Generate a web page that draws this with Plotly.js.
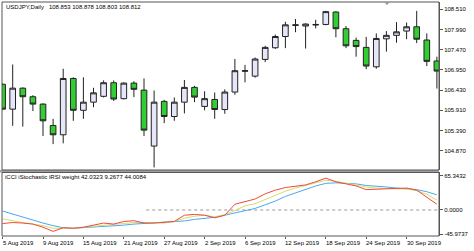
<!DOCTYPE html>
<html><head><meta charset="utf-8">
<script src="https://cdn.plot.ly/plotly-3.0.1.min.js"></script>
<style>html,body{margin:0;padding:0;background:#fff;} #chart{width:474px;height:251px;}</style>
</head><body><div id="chart"></div>
<script>
const dates = ['5 Aug 2019','6 Aug 2019','7 Aug 2019','8 Aug 2019','9 Aug 2019','12 Aug 2019','13 Aug 2019','14 Aug 2019','15 Aug 2019','16 Aug 2019',
 '19 Aug 2019','20 Aug 2019','21 Aug 2019','22 Aug 2019','23 Aug 2019','26 Aug 2019','27 Aug 2019','28 Aug 2019','29 Aug 2019','30 Aug 2019',
 '2 Sep 2019','3 Sep 2019','4 Sep 2019','5 Sep 2019','6 Sep 2019','9 Sep 2019','10 Sep 2019','11 Sep 2019','12 Sep 2019','13 Sep 2019',
 '16 Sep 2019','17 Sep 2019','18 Sep 2019','19 Sep 2019','20 Sep 2019','23 Sep 2019','24 Sep 2019','25 Sep 2019','26 Sep 2019','27 Sep 2019',
 '30 Sep 2019','1 Oct 2019','2 Oct 2019','3 Oct 2019'];
const openP  = [106.58,105.94,106.48,106.26,106.07,105.52,105.28,106.73,105.91,106.12, 106.27,106.62,106.21,106.61,106.43,104.99,106.14,105.75,106.12,106.50, 106.01,106.19,105.93,106.38,106.93,106.79,107.22,107.52,107.81,108.11, 108.08,108.12,108.12,108.44,108.01,107.71,107.53,107.03,107.75,107.84, 107.95,108.06,107.72,107.18];
const highP  = [106.60,107.09,106.50,106.30,106.09,105.69,106.98,106.76,106.76,106.49, 106.68,106.68,106.63,106.66,106.73,106.42,106.18,106.24,106.69,106.54, 106.40,106.37,106.45,107.23,107.08,107.27,107.57,107.86,108.19,108.26, 108.15,108.24,108.47,108.46,108.08,107.78,107.80,107.89,107.95,108.18, 108.17,108.47,107.89,107.29];
const lowP   = [105.92,105.51,105.49,105.89,105.25,105.04,105.06,105.64,105.69,105.99, 106.24,106.15,106.19,106.25,105.25,104.44,105.58,105.64,105.83,106.12, 105.91,105.69,105.82,106.31,106.63,106.75,107.15,107.49,107.51,107.92, 107.50,108.02,108.10,107.79,107.51,107.29,106.97,106.98,107.42,107.65, 107.74,107.64,107.05,106.47];
const closeP = [105.94,106.48,106.26,106.07,105.64,105.28,106.73,105.91,106.12,106.36, 106.62,106.20,106.61,106.45,105.40,106.12,105.75,106.12,106.50,106.25, 106.21,105.93,106.38,106.93,106.92,107.23,107.53,107.81,108.11,108.10, 108.13,108.11,108.45,108.01,107.57,107.55,107.05,107.76,107.84,107.93, 108.06,107.74,107.17,106.92];

const redLine    = [-26,-24,-25,-27,-33,-41,-34,-35,-33,-29, -25,-27,-22,-20.5,-25,-25,-24,-22,-10,-8.5, -10,-15,-10,11,16,21,31,38,43,46, 48,54,61,54,50,46,39,40,40,41, 42,38,24,11];
const yellowLine = [-17,-21,-24,-27,-30,-35,-35,-35,-33,-31, -29,-28,-25,-24,-24,-25,-25,-22,-16,-12, -10,-13,-9,-1,8,12,20,28,36,42, 47,51,57,55,51,48,44,42,41,40, 40,37,30,19];
const blueLine   = [-2,-8,-14,-20,-25,-30,-34,-35,-34,-32, -31,-30,-29,-27,-26,-25,-24,-23,-21,-18, -16,-14,-10,-6,-2,3,10,17,26,33, 40,46,51,52,51,50,47,46,44,42, 41,39,35,29];

const dateLabels = ['5 Aug 2019','9 Aug 2019','15 Aug 2019','21 Aug 2019','27 Aug 2019','2 Sep 2019','6 Sep 2019','12 Sep 2019','18 Sep 2019','24 Sep 2019','30 Sep 2019'];
const priceTicks = [108.510,107.990,107.470,106.950,106.430,105.910,105.390,104.870];
const subTicks = [65.3432, 0, -45.9737];
const headerName = 'USDJPY,Daily';
const headerValues = ['108.853','108.878','108.803','108.812'];
const subName = 'iCCI iStochastic iRSI weight';
const subValues = ['42.0323','9.2677','44.0084'];

const FONT = '"Liberation Sans", Arial, sans-serif';
const TF = {family: FONT, size: 6, color: '#000'};
const AX = '#555';

const traces = [
 {type:'candlestick', x:dates, open:openP, high:highP, low:lowP, close:closeP, xaxis:'x', yaxis:'y',
  whiskerwidth:0, hoverinfo:'skip',
  increasing:{line:{color:'#222', width:1}, fillcolor:'#e6e6fa'},
  decreasing:{line:{color:'#222', width:1}, fillcolor:'#32cd32'}},
 {type:'scatter', mode:'lines', x:dates, y:blueLine, xaxis:'x', yaxis:'y2', line:{color:'#4aa8f0', width:1}, hoverinfo:'skip'},
 {type:'scatter', mode:'lines', x:dates, y:yellowLine, xaxis:'x', yaxis:'y2', line:{color:'#d6dc6a', width:1}, hoverinfo:'skip'},
 {type:'scatter', mode:'lines', x:dates, y:redLine, xaxis:'x', yaxis:'y2', line:{color:'#ee4a3c', width:1}, hoverinfo:'skip'}
];

const annotations = [
 {xref:'paper', yref:'paper', x:0, y:1, xanchor:'left', yanchor:'top', xshift:2, showarrow:false,
  text: headerName + '\u00a0\u00a0\u00a0' + headerValues.join('\u00a0'), font:TF},
 {xref:'paper', yref:'y2 domain', x:0, y:1, xanchor:'left', yanchor:'top', xshift:1, showarrow:false,
  text: subName + '\u00a0' + subValues.join('\u00a0'), font:TF}
];
dateLabels.forEach(d => annotations.push({xref:'x', yref:'paper', x:d, y:0, xanchor:'left', yanchor:'top',
  xshift:-2, yshift:-2, showarrow:false, text:d, font:TF}));

const shapes = [
 {type:'rect', xref:'paper', yref:'paper', x0:-0.0046, x1:1, y0:0.2714, y1:0.2821, fillcolor:'#a0a0a0', line:{width:0}},
 {type:'rect', xref:'paper', yref:'y domain', x0:0, x1:1, y0:0, y1:1, line:{color:AX, width:1}},
 {type:'rect', xref:'paper', yref:'y2 domain', x0:0, x1:1, y0:0, y1:1, line:{color:AX, width:1}},
 {type:'line', xref:'paper', yref:'y2', x0:0.33, x1:1, y0:0, y1:0, line:{color:'#999', width:1, dash:'dot'}, layer:'below'},
 {type:'path', xref:'paper', yref:'paper', xsizemode:'pixel', ysizemode:'pixel', xanchor:0.881, yanchor:1,
  path:'M -3,0 L 3,0 L 0,-3 Z', fillcolor:'#999', line:{width:0}}
];

const layout = {
 width:474, height:251, margin:{l:2, r:35, t:2, b:15},
 paper_bgcolor:'#fff', plot_bgcolor:'#fff', showlegend:false,
 boxgap:0.44, boxgroupgap:0,
 xaxis:{type:'category', categoryorder:'array', categoryarray:dates, range:[-0.0594, 43.208], anchor:'y2',
  rangeslider:{visible:false}, showgrid:false, zeroline:false, showline:false,
  ticks:'outside', ticklen:2, tickcolor:AX, tickvals:dateLabels, showticklabels:false, fixedrange:true},
 yaxis:{domain:[0.2821, 1], range:[104.374, 108.698], side:'right', showgrid:false, zeroline:false,
  showline:true, linecolor:AX, linewidth:1, ticks:'outside', ticklen:3, tickcolor:AX,
  tickvals:priceTicks, ticktext:priceTicks.map(v => v.toFixed(3)), tickfont:TF, fixedrange:true},
 yaxis2:{domain:[0, 0.2714], range:[-49.8, 71.8], side:'right', anchor:'x', showgrid:false, zeroline:false,
  showline:true, linecolor:AX, linewidth:1, ticks:'outside', ticklen:3, tickcolor:AX,
  tickvals:subTicks, ticktext:subTicks.map(v => v.toFixed(4)), tickfont:TF, fixedrange:true},
 shapes: shapes, annotations: annotations
};

Plotly.newPlot('chart', traces, layout, {displayModeBar:false, staticPlot:true});
</script></body></html>
